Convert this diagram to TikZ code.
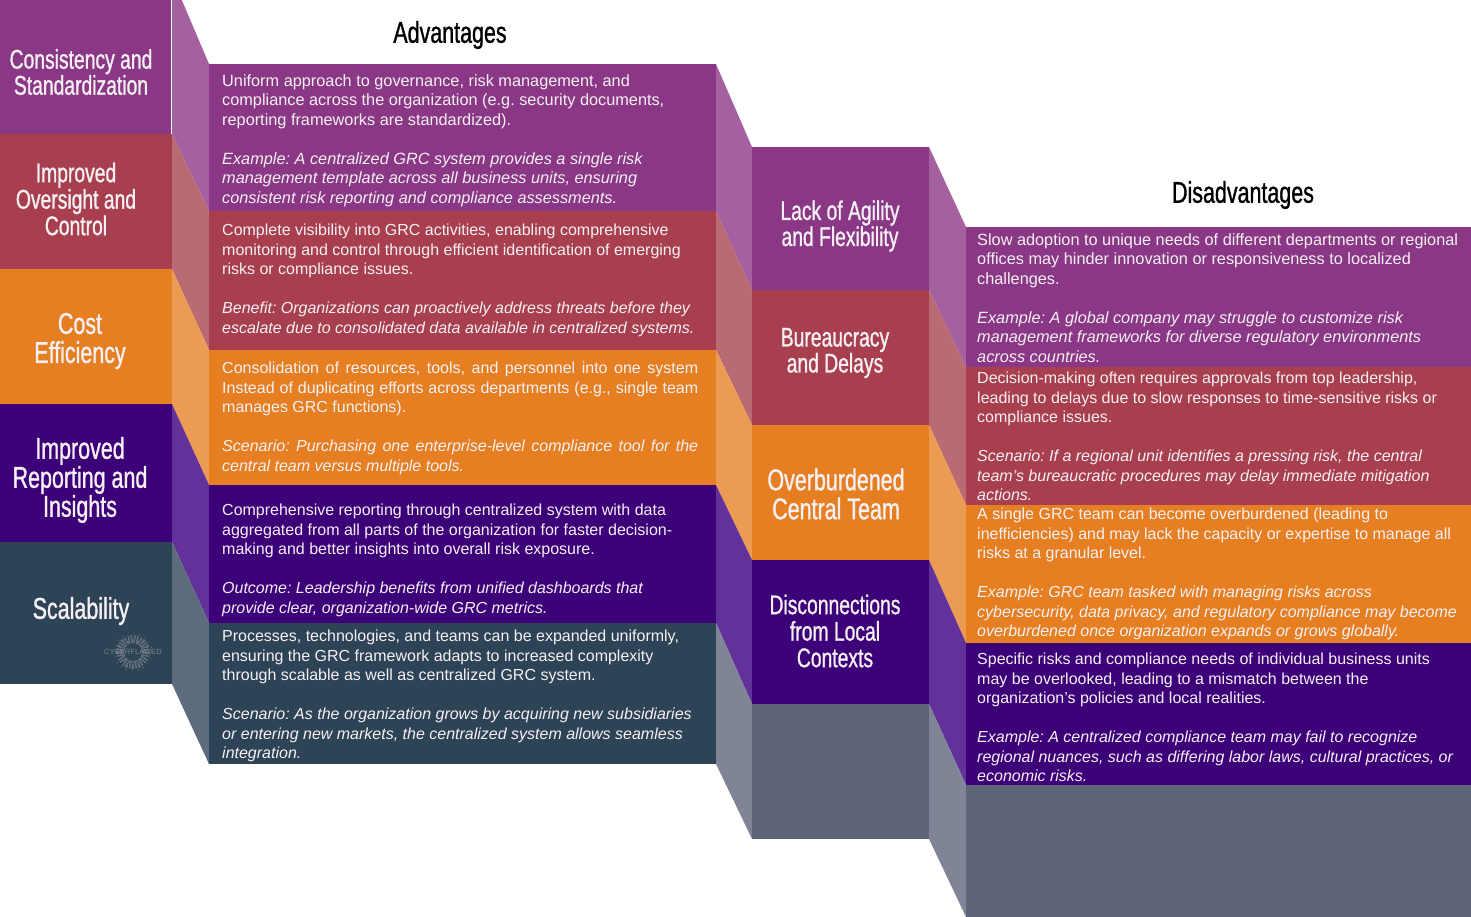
\documentclass[tikz,border=0pt]{standalone}
\usepackage{fontspec}
\usepackage{xcolor}
\usepackage{tikz}
\setmainfont{Liberation Sans}
\newfontfamily\headfont[FakeStretch=0.715,FakeBold=1]{Liberation Sans}
\definecolor{purpleband}{HTML}{8A3785}
\definecolor{purpleside}{HTML}{A5609F}
\definecolor{redband}{HTML}{A83F4E}
\definecolor{redside}{HTML}{BA6A72}
\definecolor{orangeband}{HTML}{E57F22}
\definecolor{orangeside}{HTML}{EC9C52}
\definecolor{indigoband}{HTML}{3C0078}
\definecolor{indigoside}{HTML}{63319A}
\definecolor{slateband}{HTML}{2D4356}
\definecolor{slateside}{HTML}{5C6C7C}
\definecolor{greyband}{HTML}{5F6579}
\definecolor{greyside}{HTML}{7F8597}
\definecolor{inktext}{HTML}{F6F0F4}
\definecolor{logoink}{HTML}{8C949C}
\tikzstyle{body} = [anchor=north west, align=left, inner sep=0pt, text=inktext, font=\frenchspacing\fontsize{16}{19.5}\selectfont]
\tikzstyle{widebody} = [body, font=\frenchspacing\fontsize{16.3}{19.5}\selectfont]
\tikzstyle{rowlabel} = [align=center, inner sep=0pt, text=inktext]
\tikzstyle{heading} = [inner sep=0pt, text=black, font=\headfont\fontsize{30}{30}\selectfont]
\newcommand{\labelfont}[2]{\headfont\fontsize{#1}{#2}\selectfont}
\newcommand{\fullline}[1]{\makebox[476pt][s]{#1}}
\begin{document}
\begin{tikzpicture}[x=1pt,y=-1pt]
	\clip (0,0) rectangle (1471,917);
	%left column
	\fill[purpleband] (0,0) rectangle (172,134);
	\fill[redband] (0,134) rectangle (172,269);
	\fill[orangeband] (0,269) rectangle (172,404);
	\fill[indigoband] (0,404) rectangle (172,542);
	\fill[slateband] (0,542) rectangle (172,684);
	%slanted faces
	\fill[purpleside] (172,-23) -- (209,64) -- (209,211) -- (172,134) -- cycle;
	\fill[redside] (172,134) -- (209,211) -- (209,350) -- (172,269) -- cycle;
	\fill[orangeside] (172,269) -- (209,350) -- (209,485) -- (172,404) -- cycle;
	\fill[indigoside] (172,404) -- (209,485) -- (209,623) -- (172,542) -- cycle;
	\fill[slateside] (172,542) -- (209,623) -- (209,764) -- (172,684) -- cycle;
	\draw[white, line width=0.7pt] (171.6,0) -- (171.6,134);
	%advantages column
	\fill[purpleband] (209,64) rectangle (716,211);
	\fill[redband] (209,211) rectangle (716,350);
	\fill[orangeband] (209,350) rectangle (716,485);
	\fill[indigoband] (209,485) rectangle (716,623);
	\fill[slateband] (209,623) rectangle (716,764);
	\fill[purpleside] (716,64) -- (752,147) -- (752,290) -- (716,211) -- cycle;
	\fill[redside] (716,211) -- (752,290) -- (752,425) -- (716,350) -- cycle;
	\fill[orangeside] (716,350) -- (752,425) -- (752,560) -- (716,485) -- cycle;
	\fill[indigoside] (716,485) -- (752,560) -- (752,704) -- (716,623) -- cycle;
	\fill[greyside] (716,623) -- (752,704) -- (752,839) -- (716,764) -- cycle;
	%middle column
	\fill[purpleband] (752,147) rectangle (929,290);
	\fill[redband] (752,290) rectangle (929,425);
	\fill[orangeband] (752,425) rectangle (929,560);
	\fill[indigoband] (752,560) rectangle (929,704);
	\fill[greyband] (752,704) rectangle (929,839);
	\fill[purpleside] (929,147) -- (966,227) -- (966,367) -- (929,290) -- cycle;
	\fill[redside] (929,290) -- (966,367) -- (966,505) -- (929,425) -- cycle;
	\fill[orangeside] (929,425) -- (966,505) -- (966,643) -- (929,560) -- cycle;
	\fill[indigoside] (929,560) -- (966,643) -- (966,785) -- (929,704) -- cycle;
	\fill[greyside] (929,704) -- (966,785) -- (966,917) -- (929,839) -- cycle;
	%disadvantages column
	\fill[purpleband] (966,227) rectangle (1471,367);
	\fill[redband] (966,367) rectangle (1471,505);
	\fill[orangeband] (966,505) rectangle (1471,643);
	\fill[indigoband] (966,643) rectangle (1471,785);
	\fill[greyband] (966,785) rectangle (1471,917);
	%headings
	\node (advhead) [heading] at (450,35) {Advantages};
	\node (dishead) [heading] at (1243,195) {Disadvantages};
	%left labels
	\node (consistency) [rowlabel, font=\labelfont{27}{26}] at (81,72) {Consistency and\\Standardization};
	\node (oversight) [rowlabel, font=\labelfont{27}{26.5}] at (76,199) {Improved\\Oversight and\\Control};
	\node (cost) [rowlabel, font=\labelfont{30}{29}] at (80,341) {Cost\\Efficiency};
	\node (reporting) [rowlabel, font=\labelfont{30}{29}] at (80,480) {Improved\\Reporting and\\Insights};
	\node (scalability) [rowlabel, font=\labelfont{30}{29}] at (81,611) {Scalability};
	%watermark
	\draw[logoink, opacity=0.55, line width=8pt, dash pattern=on 1.6pt off 1.2pt] (133,652) circle (13);
	\draw[logoink, opacity=0.5, line width=1pt, dash pattern=on 1pt off 5pt] (133,652) circle (19);
	\node (logo) [inner sep=0pt, text=logoink, opacity=0.8, font=\fontsize{7.6}{8}\selectfont] at (133,652) {CYBERFLAWED};
	%advantages text
	\node (advone) [widebody] at (222,74) {Uniform approach to governance, risk management, and\\compliance across the organization (e.g. security documents,\\reporting frameworks are standardized).\\[\baselineskip]\textit{Example: A centralized GRC system provides a single risk}\\\textit{management template across all business units, ensuring}\\\textit{consistent risk reporting and compliance assessments.}};
	\node (advtwo) [body] at (222,224) {Complete visibility into GRC activities, enabling comprehensive\\monitoring and control through efficient identification of emerging\\risks or compliance issues.\\[\baselineskip]\textit{Benefit: Organizations can proactively address threats before they}\\\textit{escalate due to consolidated data available in centralized systems.}};
	\node (advthree) [body] at (222,362) {\fullline{Consolidation of resources, tools, and personnel into one system}\\\fullline{Instead of duplicating efforts across departments (e.g., single team}\\manages GRC functions).\\[\baselineskip]\fullline{\textit{Scenario: Purchasing one enterprise-level compliance tool for the}}\\\textit{central team versus multiple tools.}};
	\node (advfour) [body] at (222,504) {Comprehensive reporting through centralized system with data\\aggregated from all parts of the organization for faster decision-\\making and better insights into overall risk exposure.\\[\baselineskip]\textit{Outcome: Leadership benefits from unified dashboards that}\\\textit{provide clear, organization-wide GRC metrics.}};
	\node (advfive) [body] at (222,630) {Processes, technologies, and teams can be expanded uniformly,\\ensuring the GRC framework adapts to increased complexity\\through scalable as well as centralized GRC system.\\[\baselineskip]\textit{Scenario: As the organization grows by acquiring new subsidiaries}\\\textit{or entering new markets, the centralized system allows seamless}\\\textit{integration.}};
	%middle labels
	\node (agility) [rowlabel, font=\labelfont{27}{26}] at (840,226) {Lack of Agility\\and Flexibility};
	\node (bureaucracy) [rowlabel, font=\labelfont{27}{26}] at (835,353) {Bureaucracy\\and Delays};
	\node (overburdened) [rowlabel, font=\labelfont{30}{29}] at (836,494) {Overburdened\\Central Team};
	\node (disconnect) [rowlabel, font=\labelfont{27}{26.5}] at (835,631) {Disconnections\\from Local\\Contexts};
	%disadvantages text
	\node (disone) [widebody] at (977,233) {Slow adoption to unique needs of different departments or regional\\offices may hinder innovation or responsiveness to localized\\challenges.\\[\baselineskip]\textit{Example: A global company may struggle to customize risk}\\\textit{management frameworks for diverse regulatory environments}\\\textit{across countries.}};
	\node (distwo) [body] at (977,372) {Decision-making often requires approvals from top leadership,\\leading to delays due to slow responses to time-sensitive risks or\\compliance issues.\\[\baselineskip]\textit{Scenario: If a regional unit identifies a pressing risk, the central}\\\textit{team’s bureaucratic procedures may delay immediate mitigation}\\\textit{actions.}};
	\node (disthree) [body] at (977,508) {A single GRC team can become overburdened (leading to\\inefficiencies) and may lack the capacity or expertise to manage all\\risks at a granular level.\\[\baselineskip]\textit{Example: GRC team tasked with managing risks across}\\\textit{cybersecurity, data privacy, and regulatory compliance may become}\\\textit{overburdened once organization expands or grows globally.}};
	\node (disfour) [body] at (977,653) {Specific risks and compliance needs of individual business units\\may be overlooked, leading to a mismatch between the\\organization’s policies and local realities.\\[\baselineskip]\textit{Example: A centralized compliance team may fail to recognize}\\\textit{regional nuances, such as differing labor laws, cultural practices, or}\\\textit{economic risks.}};
\end{tikzpicture}
\end{document}
